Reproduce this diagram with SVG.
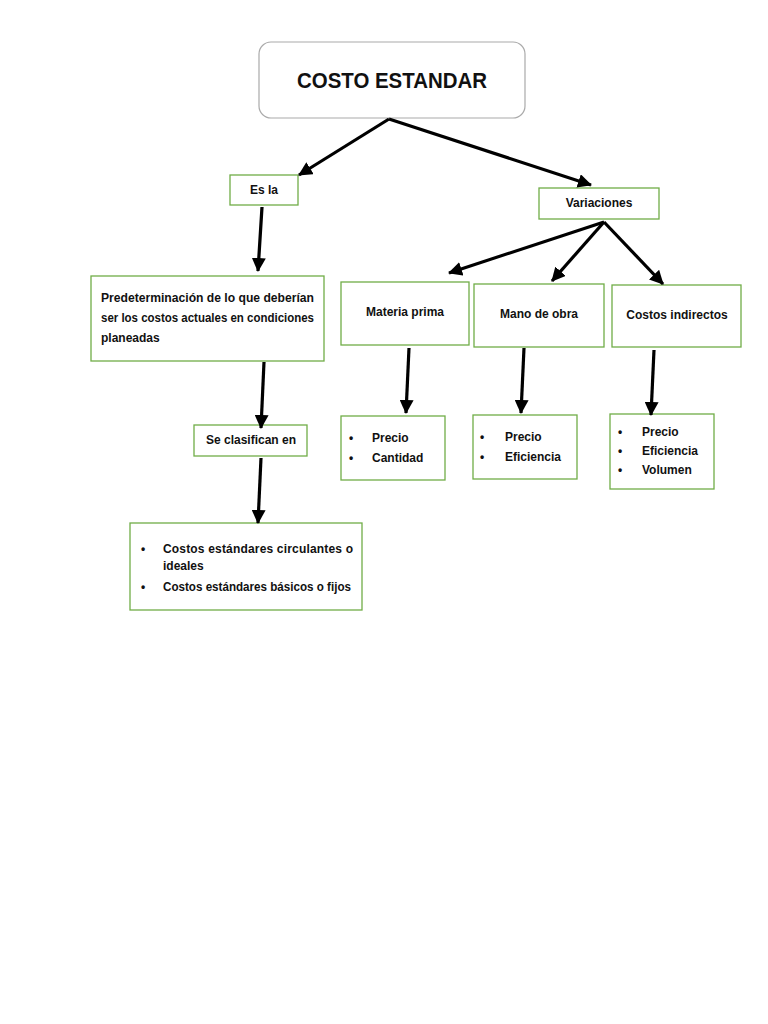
<svg xmlns="http://www.w3.org/2000/svg" width="768" height="1024" viewBox="0 0 768 1024">
<defs>
<marker id="ah" markerUnits="userSpaceOnUse" markerWidth="14" markerHeight="14" viewBox="0 0 14 14" refX="13" refY="7" orient="auto">
<path d="M0,0 L14,7 L0,14 Z" fill="#000"/>
</marker>
</defs>
<style>
.box{fill:#fff;stroke:#70ad47;stroke-width:1.3}
.t{font-family:"Liberation Sans",Arial,sans-serif;font-weight:bold;font-size:12px;fill:#111}
.c{text-anchor:middle}
.con line{stroke:#000;stroke-width:3.2;marker-end:url(#ah)}
</style>
<rect width="768" height="1024" fill="#fff"/>
<g id="title">
<rect x="259" y="42" width="266" height="76" rx="12" fill="#fff" stroke="#aaa" stroke-width="1.2"/>
<text x="392" y="88" class="t c" style="font-size:22px" textLength="190" lengthAdjust="spacingAndGlyphs">COSTO ESTANDAR</text>
</g>
<g id="esla">
<rect class="box" x="230" y="175" width="68" height="30"/>
<text x="264" y="194" class="t c">Es la</text>
</g>
<g id="variaciones">
<rect class="box" x="539" y="188" width="120" height="31"/>
<text x="599" y="207" class="t c">Variaciones</text>
</g>
<g id="predeterminacion">
<rect class="box" x="91" y="276" width="233" height="85"/>
<text x="101" y="302" class="t" textLength="213" lengthAdjust="spacingAndGlyphs">Predeterminación de lo que deberían</text>
<text x="101" y="322" class="t" textLength="213" lengthAdjust="spacingAndGlyphs">ser los costos actuales en condiciones</text>
<text x="101" y="342" class="t">planeadas</text>
</g>
<g id="materia">
<rect class="box" x="341" y="282" width="128" height="63"/>
<text x="405" y="316" class="t c">Materia prima</text>
</g>
<g id="mano">
<rect class="box" x="474" y="284" width="130" height="63"/>
<text x="539" y="318" class="t c">Mano de obra</text>
</g>
<g id="indirectos">
<rect class="box" x="612" y="285" width="129" height="62"/>
<text x="677" y="319" class="t c">Costos indirectos</text>
</g>
<g id="clasifican">
<rect class="box" x="194" y="425" width="113" height="31"/>
<text x="251" y="444" class="t c">Se clasifican en</text>
</g>
<g id="clasificacion">
<rect class="box" x="130" y="523" width="232" height="87"/>
<text x="141" y="553" class="t">•</text>
<text x="163" y="553" class="t" textLength="190" lengthAdjust="spacing">Costos estándares circulantes o</text>
<text x="163" y="570" class="t">ideales</text>
<text x="141" y="591" class="t">•</text>
<text x="163" y="591" class="t" textLength="188" lengthAdjust="spacingAndGlyphs">Costos estándares básicos o fijos</text>
</g>
<g id="mp-items">
<rect class="box" x="341" y="416" width="104" height="64"/>
<text x="349" y="442" class="t">•</text>
<text x="372" y="442" class="t">Precio</text>
<text x="349" y="462" class="t">•</text>
<text x="372" y="462" class="t">Cantidad</text>
</g>
<g id="mo-items">
<rect class="box" x="473" y="415" width="104" height="64"/>
<text x="480" y="441" class="t">•</text>
<text x="505" y="441" class="t">Precio</text>
<text x="480" y="461" class="t">•</text>
<text x="505" y="461" class="t">Eficiencia</text>
</g>
<g id="ci-items">
<rect class="box" x="610" y="414" width="104" height="75"/>
<text x="618" y="436" class="t">•</text>
<text x="642" y="436" class="t">Precio</text>
<text x="618" y="455" class="t">•</text>
<text x="642" y="455" class="t">Eficiencia</text>
<text x="618" y="474" class="t">•</text>
<text x="642" y="474" class="t">Volumen</text>
</g>
<g id="connectors" class="con">
<line x1="389" y1="119" x2="299" y2="175"/>
<line x1="389" y1="119" x2="591" y2="185"/>
<line x1="262" y1="207" x2="258" y2="271"/>
<line x1="604" y1="222" x2="449" y2="273"/>
<line x1="604" y1="222" x2="552" y2="281"/>
<line x1="604" y1="222" x2="663" y2="284"/>
<line x1="264" y1="362" x2="261" y2="428"/>
<line x1="409" y1="348" x2="406" y2="413"/>
<line x1="524" y1="348" x2="521" y2="413"/>
<line x1="654" y1="350" x2="651" y2="415"/>
<line x1="261" y1="458" x2="258" y2="523"/>
</g>
</svg>
